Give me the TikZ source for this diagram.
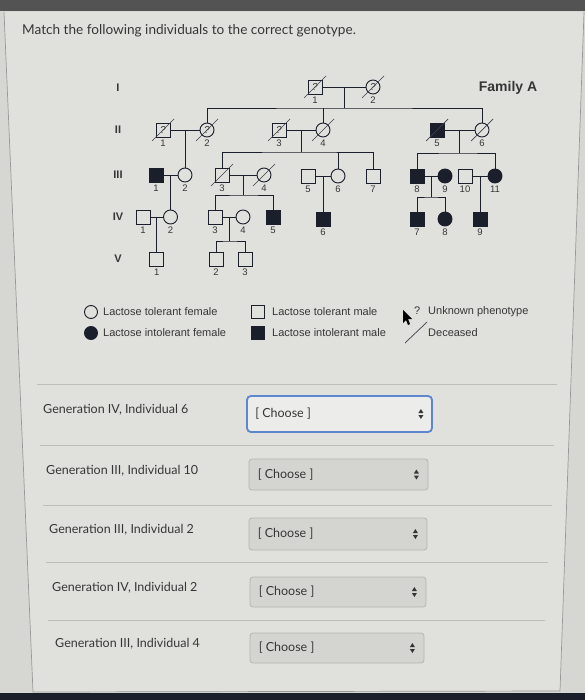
\documentclass[tikz,border=0pt]{standalone}
\usepackage{fontspec}
\setmainfont{Liberation Sans}
\newfontfamily\latofont{Lato}
\usetikzlibrary{calc}
\definecolor{paper}{HTML}{E0E0DD}
\definecolor{outer}{HTML}{D6D6D3}
\definecolor{ink}{HTML}{1B1E2B}
\definecolor{rule}{HTML}{BDBDBA}
\definecolor{boxfill}{HTML}{D4D4D1}
\definecolor{boxedge}{HTML}{B4B4B1}
\definecolor{focus}{HTML}{5D86CC}
\definecolor{txt}{HTML}{363636}

\begin{document}
\begin{tikzpicture}[x=1pt,y=-1pt,
   person/.style={draw=ink,line width=0.9pt,minimum size=14pt,inner sep=0pt,fill=paper},
   male/.style={person,rectangle},
   female/.style={person,circle},
   affmale/.style={male,fill=ink},
   afffemale/.style={female,fill=ink},
   keymale/.style={male,minimum size=13pt},
   keyfemale/.style={female,minimum size=13pt},
   numlabel/.style={font=\fontsize{9.5}{9.5}\selectfont,text=txt,inner sep=0pt,label distance=2.3pt},
   qmark/.style={font=\fontsize{10}{10}\selectfont\itshape,text=txt,inner sep=0pt},
   gen/.style={font=\bfseries\fontsize{11}{11}\selectfont,text=txt,inner sep=0pt},
   link/.style={draw=ink,line width=0.9pt},
   slash/.style={draw=ink!85,line width=0.7pt},
   keytext/.style={font=\fontsize{11}{11}\selectfont,text=txt,anchor=west,inner sep=0pt},
   question/.style={font=\latofont\fontsize{12.5}{12.5}\selectfont,text=txt,anchor=west,inner sep=0pt},
   choosebox/.style={draw=boxedge,fill=boxfill,line width=0.8pt,rounded corners=3pt,inner sep=0pt},
   sep/.style={draw=rule,line width=0.6pt}
]
   \useasboundingbox (0,0) rectangle (585,700);
   \fill[outer] (0,0) rectangle (585,700);
   \fill[paper] (4,12) -- (584,12) -- (560,691) -- (33,692) -- cycle;
   \draw[gray!80,line width=0.7pt] (4,12) -- (33,692) -- (560,691) -- (584,12);
   \fill[gray!65!black] (0,0) rectangle (585,11);
   \fill[ink] (0,693) rectangle (585,700);

   \node[font=\latofont\fontsize{13.6}{14}\selectfont,text=txt,anchor=west,inner sep=0pt]
      (title) at (22,31) {Match the following individuals to the correct genotype.};

   \foreach \g/\y in {I/88,II/130,III/175,IV/217,V/259}
      \node[gen] (gen\g) at (118,\y) {\g};
   \node[font=\bfseries\fontsize{14}{14}\selectfont,text=txt,inner sep=0pt] (famA) at (508,88) {Family A};

   \foreach \p/\x/\y/\s/\n in {
      g1a/315/87/male/1,g1b/373/87/female/2,
      g2a/163/130/male/1,g2b/207/130/female/2,g2c/279/130/male/3,
      g2d/323/130/female/4,g2e/437/130/affmale/5,g2f/482/130/female/6,
      g3a/156/175/affmale/1,g3b/185/175/female/2,g3c/222/175/male/3,
      g3d/264/175/female/4,g3e/308/176/male/5,g3f/338/176/female/6,
      g3g/373/176/male/7,g3h/417/176/affmale/8,g3i/445/176/afffemale/9,
      g3j/465/176/male/10,g3k/495/176/afffemale/11,
      g4a/143/217/male/1,g4b/170.5/217/female/2,g4c/215/217/male/3,
      g4d/243/217/female/4,g4e/273/217/affmale/5,g4f/323/219/affmale/6,
      g4g/417/219/affmale/7,g4h/445/219/afffemale/8,g4i/480/219/affmale/9,
      g5a/156.75/259/male/1,g5b/216/259/male/2,g5c/245/259/male/3} {
      \node[\s,label={[numlabel]below:\n}] (\p) at (\x,\y) {};
   }

   \foreach \a/\b/\m in {g1a/g1b/u1,g2a/g2b/u2,g2c/g2d/u3,g2e/g2f/u4,
      g3a/g3b/u5,g3c/g3d/u6,g3e/g3f/u7,g3h/g3i/u8,g3j/g3k/u9,
      g4a/g4b/u10,g4c/g4d/u11} {
      \draw[link] (\a) -- (\b);
      \coordinate (\m) at ($(\a)!0.5!(\b)$);
   }

   \foreach \m/\y/\s in {u1/108/s1,u3/152/s2,u4/153/s3,u6/195/s4,u8/197/s5,u11/241/s6} {
      \coordinate (\s) at (\m |- 0,\y);
      \draw[link] (\m) -- (\s);
   }
   \draw[link] (g2b) |- (s1) -| (g2f);
   \draw[link] (g2d) -- (g2d |- s1);
   \draw[link] (g3c) |- (s2) -| (g3g);
   \draw[link] (g3f) -- (g3f |- s2);
   \draw[link] (g3h) |- (s3) -| (g3k);
   \draw[link] (g4c) |- (s4) -| (g4e);
   \draw[link] (g4g) |- (s5) -| (g4h);
   \draw[link] (g5b) |- (s6) -| (g5c);
   \draw[link] (u2) -- (g3b);
   \draw[link] (u5) -- (g4b);
   \draw[link] (u7) -- (g4f);
   \draw[link] (u9) -- (g4i);
   \draw[link] (u10) -- (g5a);

   \foreach \p in {g1a,g1b,g2a,g2b,g2c}
      \node[qmark] at (\p) {?};
   \foreach \p in {g1a,g1b,g2a,g2b,g2c,g2d,g2e,g2f,g3c,g3d}
      \draw[slash] ([shift={(-11,11)}]\p.center) -- ([shift={(11,-11)}]\p.center);

   \node[keyfemale] (kf1) at (91,312) {};
   \node[keyfemale,fill=ink] (kf2) at (91,333) {};
   \node[keymale] (km1) at (258,312) {};
   \node[keymale,fill=ink] (km2) at (258,333) {};
   \node[keytext] (tf1) at (103,312) {Lactose tolerant female};
   \node[keytext] (tf2) at (103,333) {Lactose intolerant female};
   \node[keytext] (tm1) at (272,312) {Lactose tolerant male};
   \node[keytext] (tm2) at (272,333) {Lactose intolerant male};
   \node[keytext] (kq) at (414,311) {?};
   \node[keytext] (tq) at (428,312) {Unknown phenotype};
   \node[keytext] (td) at (428,333) {Deceased};
   \draw[slash] (405,343) -- (427,322);
   \fill[black] (403,310) -- (403,323) -- (406,320) -- (408,325) -- (410,324)
      -- (408,319) -- (412,319) -- cycle;

   \draw[sep] (37,384) -- (557,384);
   \draw[sep] (40,445) -- (554,445);
   \draw[sep] (43,505) -- (552,505);
   \draw[sep] (46,562) -- (548,562);
   \draw[sep] (48,620) -- (545,620);

   \foreach \i/\cx/\cy/\w/\h/\qx/\t in {
      1/339.5/414/185/36/43/{Generation IV, Individual 6},
      2/338.5/474.5/179/31/46/{Generation III, Individual 10},
      3/338/534/178/32/49/{Generation III, Individual 2},
      4/338/592/176/30/52/{Generation IV, Individual 2},
      5/337/648/174/30/55/{Generation III, Individual 4}} {
      \node[question] (q\i) at (\qx,\cy-4) {\t};
      \node[choosebox,minimum width=\w pt,minimum height=\h pt] (c\i) at (\cx,\cy) {};
   }
   \node[choosebox,draw=focus,fill=paper!60!white,line width=1.8pt,rounded corners=4pt,
      minimum width=185pt,minimum height=36pt] (c1) at (339.5,414) {};
   \foreach \i in {1,...,5} {
      \node[question] (ch\i) at ([xshift=9pt]c\i.west) {[ Choose ]};
      \fill[txt] ([shift={(-14.5,-1)}]c\i.east) -- ([shift={(-9.5,-1)}]c\i.east) -- ([shift={(-12,-5)}]c\i.east) -- cycle;
      \fill[txt] ([shift={(-14.5,1)}]c\i.east) -- ([shift={(-9.5,1)}]c\i.east) -- ([shift={(-12,5)}]c\i.east) -- cycle;
   }
\end{tikzpicture}
\end{document}
